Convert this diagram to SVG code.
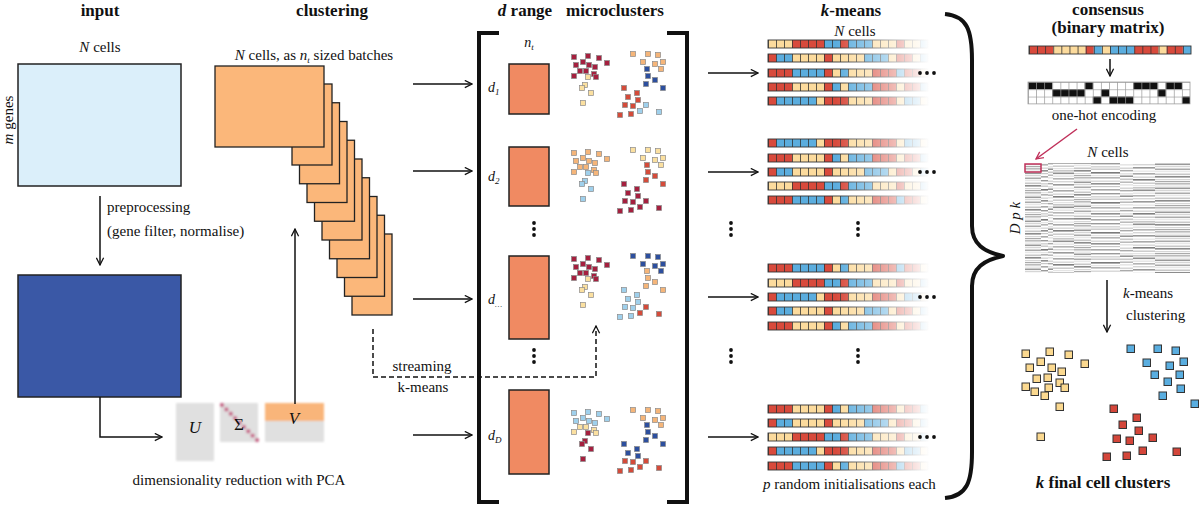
<svg xmlns="http://www.w3.org/2000/svg" xmlns:xlink="http://www.w3.org/1999/xlink" width="1200" height="511" viewBox="0 0 1200 511" font-family="'Liberation Serif', 'DejaVu Serif', serif">
<style>
text{font-family:"Liberation Serif","DejaVu Serif",serif;fill:#111;}
.t{font-size:17px;font-weight:bold;text-anchor:middle;}
.b{font-size:15px;}
.c{text-anchor:middle;}
.i{font-style:italic;}
.ln{stroke:#111;stroke-width:1.5;fill:none;}
.kr{fill:#d84a3c;}.kb{fill:#5badde;}.ky{fill:#fcdb9d;}
.cr{fill:#a5203f;}.ye{fill:#fbe0a0;}.or{fill:#f5b579;}.db{fill:#2d4f9e;}.rd{fill:#d44b3a;}.lb{fill:#9fd0ec;}
.fy{fill:#fbd990;}.fb{fill:#5aaee0;}.fr{fill:#d4463a;}
.dot{fill:#111;}
</style>
<defs>
<marker id="ah" viewBox="0 0 10 10" refX="9" refY="5" markerWidth="9" markerHeight="9" orient="auto" markerUnits="userSpaceOnUse"><path d="M1,1 L9,5 L1,9" fill="none" stroke="#111" stroke-width="1.4"/></marker>
<marker id="ahp" viewBox="0 0 10 10" refX="9" refY="5" markerWidth="9" markerHeight="9" orient="auto" markerUnits="userSpaceOnUse"><path d="M1,1 L9,5 L1,9" fill="none" stroke="#c0305a" stroke-width="1.4"/></marker>
<filter id="soft" x="-10%" y="-10%" width="120%" height="120%"><feGaussianBlur stdDeviation="0.9"/></filter>
<linearGradient id="fade" x1="836" y1="0" x2="930" y2="0" gradientUnits="userSpaceOnUse"><stop offset="0" stop-color="#fff" stop-opacity="0"/><stop offset="1" stop-color="#fff" stop-opacity="1"/></linearGradient>
<pattern id="grid" width="8" height="8" patternUnits="userSpaceOnUse"><rect x="0" y="0" width="0.8" height="8" fill="#333"/></pattern>
<pattern id="grid2" width="8" height="8" patternUnits="userSpaceOnUse"><rect x="0" y="0" width="0.7" height="8" fill="#999"/><rect x="0" y="0" width="8" height="0.7" fill="#999"/></pattern>
<g id="s1"><rect class="ky" x="0" width="24" height="8"/><rect class="kr" x="24" width="32" height="8"/><rect class="kb" x="56" width="16" height="8"/><rect class="kr" x="72" width="8" height="8"/><rect class="kb" x="80" width="24" height="8"/><rect class="ky" x="104" width="24" height="8"/><rect class="kr" x="128" width="8" height="8"/><rect class="ky" x="136" width="16" height="8"/><rect class="kb" x="152" width="8" height="8"/><rect width="160" height="8" fill="url(#grid)" stroke="#333" stroke-width="0.9"/></g>
<g id="s2"><rect class="kr" x="0" width="8" height="8"/><rect class="kb" x="8" width="16" height="8"/><rect class="ky" x="24" width="32" height="8"/><rect class="kr" x="56" width="8" height="8"/><rect class="ky" x="64" width="32" height="8"/><rect class="kb" x="96" width="24" height="8"/><rect class="ky" x="120" width="8" height="8"/><rect class="kr" x="128" width="16" height="8"/><rect class="ky" x="144" width="8" height="8"/><rect class="kb" x="152" width="8" height="8"/><rect width="160" height="8" fill="url(#grid)" stroke="#333" stroke-width="0.9"/></g>
<g id="s3"><rect class="kr" x="0" width="24" height="8"/><rect class="kb" x="24" width="32" height="8"/><rect class="kr" x="56" width="8" height="8"/><rect class="ky" x="64" width="8" height="8"/><rect class="kb" x="72" width="8" height="8"/><rect class="ky" x="80" width="24" height="8"/><rect class="kr" x="104" width="24" height="8"/><rect class="kb" x="128" width="8" height="8"/><rect class="kr" x="136" width="16" height="8"/><rect class="ky" x="152" width="8" height="8"/><rect width="160" height="8" fill="url(#grid)" stroke="#333" stroke-width="0.9"/></g>
<g id="s4"><rect class="kr" x="0" width="24" height="8"/><rect class="ky" x="24" width="32" height="8"/><rect class="kr" x="56" width="8" height="8"/><rect class="kb" x="64" width="8" height="8"/><rect class="ky" x="72" width="8" height="8"/><rect class="kb" x="80" width="24" height="8"/><rect class="kr" x="104" width="24" height="8"/><rect class="ky" x="128" width="8" height="8"/><rect class="kr" x="136" width="16" height="8"/><rect class="kb" x="152" width="8" height="8"/><rect width="160" height="8" fill="url(#grid)" stroke="#333" stroke-width="0.9"/></g>
<g id="s5"><rect class="kr" x="0" width="8" height="8"/><rect class="kb" x="8" width="40" height="8"/><rect class="ky" x="48" width="8" height="8"/><rect class="kr" x="56" width="24" height="8"/><rect class="ky" x="80" width="24" height="8"/><rect class="kr" x="104" width="24" height="8"/><rect class="ky" x="128" width="8" height="8"/><rect class="kb" x="136" width="16" height="8"/><rect class="ky" x="152" width="8" height="8"/><rect width="160" height="8" fill="url(#grid)" stroke="#333" stroke-width="0.9"/></g>
<g id="gA1" stroke="#8a8a8a" stroke-width="0.7"><rect x="571.5" y="54.5" width="5" height="5"/><rect x="585.5" y="53.5" width="5" height="5"/><rect x="596.5" y="55.5" width="5" height="5"/><rect x="604.5" y="60.5" width="5" height="5"/><rect x="573.5" y="62.5" width="5" height="5"/><rect x="580.5" y="59.5" width="5" height="5"/><rect x="586.5" y="62.5" width="5" height="5"/><rect x="592.5" y="64.5" width="5" height="5"/></g>
<g id="gA2" stroke="#8a8a8a" stroke-width="0.7"><rect x="577.5" y="68.5" width="5" height="5"/><rect x="583.5" y="68.5" width="5" height="5"/><rect x="591.5" y="71.5" width="5" height="5"/><rect x="593.5" y="74.5" width="5" height="5"/><rect x="571.5" y="73.5" width="5" height="5"/></g>
<g id="gB" stroke="#8a8a8a" stroke-width="0.7"><rect x="582.5" y="82.5" width="5" height="5"/><rect x="579.5" y="85.5" width="5" height="5"/><rect x="588.5" y="90.5" width="5" height="5"/><rect x="580.5" y="100.5" width="5" height="5"/><rect x="585.5" y="74.5" width="5" height="5"/></g>
<g id="gC" stroke="#8a8a8a" stroke-width="0.7"><rect x="630.5" y="51.5" width="5" height="5"/><rect x="645.5" y="51.5" width="5" height="5"/><rect x="655.5" y="52.5" width="5" height="5"/><rect x="640.5" y="59.5" width="5" height="5"/><rect x="652.5" y="61.5" width="5" height="5"/><rect x="660.5" y="59.5" width="5" height="5"/><rect x="658.5" y="66.5" width="5" height="5"/></g>
<g id="gD" stroke="#8a8a8a" stroke-width="0.7"><rect x="644.5" y="66.5" width="5" height="5"/><rect x="645.5" y="73.5" width="5" height="5"/><rect x="652.5" y="77.5" width="5" height="5"/><rect x="643.5" y="81.5" width="5" height="5"/><rect x="660.5" y="85.5" width="5" height="5"/></g>
<g id="gE1" stroke="#8a8a8a" stroke-width="0.7"><rect x="621.5" y="85.5" width="5" height="5"/><rect x="634.5" y="90.5" width="5" height="5"/><rect x="625.5" y="94.5" width="5" height="5"/><rect x="635.5" y="97.5" width="5" height="5"/></g>
<g id="gE2" stroke="#8a8a8a" stroke-width="0.7"><rect x="622.5" y="102.5" width="5" height="5"/><rect x="630.5" y="103.5" width="5" height="5"/><rect x="617.5" y="112.5" width="5" height="5"/><rect x="628.5" y="111.5" width="5" height="5"/></g>
<g id="gF" stroke="#8a8a8a" stroke-width="0.7"><rect x="643.5" y="102.5" width="5" height="5"/><rect x="637.5" y="108.5" width="5" height="5"/><rect x="656.5" y="109.5" width="5" height="5"/></g>
<pattern id="p1" width="300" height="24" patternUnits="userSpaceOnUse"><rect width="300" height="24" fill="#fff"/><rect y="0" width="300" height="1.6" fill="#bbb"/><rect y="2.5" width="300" height="1.2" fill="#e4e4e4"/><rect y="4.5" width="300" height="1.6" fill="#999"/><rect y="7" width="300" height="1.2" fill="#d6d6d6"/><rect y="9.5" width="300" height="1.6" fill="#aaa"/><rect y="12" width="300" height="1.2" fill="#e8e8e8"/><rect y="14.5" width="300" height="1.6" fill="#c8c8c8"/><rect y="17" width="300" height="1.6" fill="#8c8c8c"/><rect y="20" width="300" height="1.2" fill="#d6d6d6"/><rect y="22" width="300" height="1.2" fill="#aaa"/></pattern>
<pattern id="p2" width="300" height="30" patternUnits="userSpaceOnUse"><rect width="300" height="30" fill="#fff"/><rect y="0" width="300" height="1.4" fill="#9a9a9a"/><rect y="3" width="300" height="1.6" fill="#d6d6d6"/><rect y="5.5" width="300" height="1.4" fill="#c8c8c8"/><rect y="9" width="300" height="1.6" fill="#7a7a7a"/><rect y="12" width="300" height="1.2" fill="#e4e4e4"/><rect y="14" width="300" height="1.6" fill="#b4b4b4"/><rect y="17.5" width="300" height="1.4" fill="#d6d6d6"/><rect y="20" width="300" height="1.6" fill="#909090"/><rect y="23" width="300" height="1.2" fill="#c8c8c8"/><rect y="26" width="300" height="1.6" fill="#aaa"/></pattern>
<pattern id="p3" width="300" height="20" patternUnits="userSpaceOnUse"><rect width="300" height="20" fill="#fff"/><rect y="0.5" width="300" height="1.6" fill="#d6d6d6"/><rect y="3" width="300" height="1.4" fill="#aaa"/><rect y="6" width="300" height="1.6" fill="#e4e4e4"/><rect y="8.5" width="300" height="1.4" fill="#888"/><rect y="11.5" width="300" height="1.6" fill="#c8c8c8"/><rect y="14.5" width="300" height="1.4" fill="#b4b4b4"/><rect y="17" width="300" height="1.6" fill="#e6e6e6"/></pattern>
<pattern id="p4" width="300" height="34" patternUnits="userSpaceOnUse"><rect width="300" height="34" fill="#fff"/><rect y="0" width="300" height="1.6" fill="#c8c8c8"/><rect y="2.5" width="300" height="1.6" fill="#909090"/><rect y="5.5" width="300" height="1.4" fill="#e4e4e4"/><rect y="8" width="300" height="1.6" fill="#b4b4b4"/><rect y="11" width="300" height="1.4" fill="#d6d6d6"/><rect y="14" width="300" height="1.6" fill="#9a9a9a"/><rect y="17.5" width="300" height="1.4" fill="#e8e8e8"/><rect y="20" width="300" height="1.6" fill="#aaa"/><rect y="23.5" width="300" height="1.4" fill="#d6d6d6"/><rect y="26" width="300" height="1.6" fill="#808080"/><rect y="29.5" width="300" height="1.4" fill="#c8c8c8"/><rect y="32" width="300" height="1.2" fill="#e4e4e4"/></pattern>
<pattern id="p1b" href="#p1" patternTransform="translate(0,9)"/>
<pattern id="p2b" href="#p2" patternTransform="translate(0,13)"/>
<pattern id="p3b" href="#p3" patternTransform="translate(0,7)"/>
<pattern id="p4b" href="#p4" patternTransform="translate(0,17)"/>
<pattern id="p1c" href="#p1" patternTransform="translate(0,15)"/>
</defs>
<rect width="1200" height="511" fill="#fff"/>

<g id="titles">
<text class="t" x="100" y="16">input</text>
<text class="t" x="332" y="16">clustering</text>
<text class="t" x="525" y="16"><tspan class="i">d</tspan> range</text>
<text class="t" x="615" y="16">microclusters</text>
<text class="t" x="851" y="16"><tspan class="i">k</tspan>-means</text>
<text class="t" x="1108" y="15">consensus</text>
<text class="t" x="1108" y="33">(binary matrix)</text>
</g>

<g id="input">
<text class="b c" x="100" y="52"><tspan class="i">N</tspan> cells</text>
<text class="b c" transform="translate(13,120) rotate(-90)"><tspan class="i">m</tspan> genes</text>
<rect x="18" y="64" width="163" height="122" fill="#dbeffa" stroke="#222" stroke-width="1.5"/>
</g>

<g id="preprocessed">
<rect x="18" y="275" width="163" height="122" fill="#3a58a6" stroke="#222" stroke-width="1.5"/>
<text class="b" x="107" y="212">preprocessing</text>
<text class="b" x="107" y="236">(gene filter, normalise)</text>
</g>

<g id="pca">
<g filter="url(#soft)">
<rect x="176" y="403" width="38" height="58" fill="#e0e0e0"/>
<rect x="220" y="403" width="38" height="39" fill="#e0e0e0"/>
<rect x="265" y="403" width="59" height="39" fill="#e0e0e0"/>
<rect x="265" y="403" width="59" height="18" fill="#f9b57a"/>
<g fill="#c86c8c"><circle cx="222" cy="405" r="2.2"/><circle cx="226.4" cy="409.4" r="2.2"/><circle cx="230.8" cy="413.8" r="2.2"/><circle cx="235.1" cy="418.1" r="2.2"/><circle cx="239.5" cy="422.5" r="2.2"/><circle cx="243.9" cy="426.9" r="2.2"/><circle cx="248.3" cy="431.3" r="2.2"/><circle cx="252.6" cy="435.6" r="2.2"/><circle cx="257" cy="440" r="2.2"/></g>
</g>
<text class="c i" x="195" y="433" font-size="17">U</text>
<text class="c" x="239" y="430" font-size="17">Σ</text>
<text class="c i" x="294" y="424" font-size="17">V</text>
<text class="b c" x="239" y="485">dimensionality reduction with PCA</text>
</g>

<g id="batches">
<text class="b c" x="314" y="60"><tspan class="i">N</tspan> cells, as <tspan class="i">n</tspan><tspan class="i" font-size="9" dy="3">t</tspan><tspan dy="-3"> sized batches</tspan></text>
<g fill="#fbb77a" stroke="#222" stroke-width="1.3">
<rect x="352" y="234" width="40" height="81"/>
<rect x="344.5" y="215.25" width="40" height="81"/>
<rect x="337" y="196.5" width="40" height="81"/>
<rect x="329.5" y="177.75" width="40" height="81"/>
<rect x="322" y="159" width="40" height="81"/>
<rect x="314.5" y="140.25" width="40" height="81"/>
<rect x="307" y="121.5" width="40" height="81"/>
<rect x="299.5" y="102.75" width="40" height="81"/>
<rect x="292" y="84" width="40" height="81"/>
<rect x="215" y="66" width="109" height="81"/>
</g>
</g>

<g id="drange">
<path d="M499,33 H479 V502 H499" fill="none" stroke="#111" stroke-width="4"/>
<path d="M667,33 H687 V502 H667" fill="none" stroke="#111" stroke-width="4"/>
<text class="c i" x="529" y="47" font-size="14">n<tspan font-size="9" dy="3">t</tspan></text>
<g fill="#f08a62" stroke="#222" stroke-width="1.5">
<rect x="509" y="64" width="40" height="50"/>
<rect x="509" y="147" width="40" height="59"/>
<rect x="509" y="256" width="40" height="83"/>
<rect x="509" y="390" width="40" height="84"/>
</g>
<text class="i" x="488" y="92" font-size="14">d<tspan font-size="9" dy="3">1</tspan></text>
<text class="i" x="488" y="181" font-size="14">d<tspan font-size="9" dy="3">2</tspan></text>
<text class="i" x="488" y="304" font-size="14">d<tspan font-size="8" dy="3">…</tspan></text>
<text class="i" x="488" y="440" font-size="14">d<tspan font-size="9" dy="3">D</tspan></text>
<g class="dot"><circle cx="534" cy="223" r="1.9"/><circle cx="534" cy="229" r="1.9"/><circle cx="534" cy="235" r="1.9"/><circle cx="534" cy="350" r="1.9"/><circle cx="534" cy="356" r="1.9"/><circle cx="534" cy="362" r="1.9"/></g>
</g>

<g id="microclusters">
<use href="#gA1" class="cr"/><use href="#gA2" class="cr"/><use href="#gB" class="ye"/><use href="#gC" class="or"/><use href="#gD" class="db"/><use href="#gE1" class="rd"/><use href="#gE2" class="rd"/><use href="#gF" class="lb"/>
<g transform="translate(0,96)"><use href="#gA1" class="or"/><use href="#gA2" class="or"/><use href="#gB" class="lb"/><use href="#gC" class="ye"/><use href="#gD" class="rd"/><use href="#gE1" class="cr"/><use href="#gE2" class="cr"/><use href="#gF" class="cr"/></g>
<g transform="translate(0,202)"><use href="#gA1" class="cr"/><use href="#gA2" class="cr"/><use href="#gB" class="ye"/><use href="#gC" class="db"/><use href="#gD" class="or"/><use href="#gE1" class="lb"/><use href="#gE2" class="lb"/><use href="#gF" class="rd"/></g>
<g transform="translate(0,356)"><use href="#gA1" class="lb"/><use href="#gA2" class="ye"/><use href="#gB" class="cr"/><use href="#gC" class="or"/><use href="#gD" class="db"/><use href="#gE1" class="db"/><use href="#gE2" class="rd"/><use href="#gF" class="rd"/></g>
</g>

<g id="kmeans">
<text class="b c" x="855" y="36"><tspan class="i">N</tspan> cells</text>
<use href="#s1" x="768" y="40"/><use href="#s2" x="768" y="54"/><use href="#s3" x="768" y="69"/><use href="#s4" x="768" y="83"/><use href="#s5" x="768" y="97"/>
<use href="#s5" x="768" y="139"/><use href="#s4" x="768" y="154"/><use href="#s2" x="768" y="168"/><use href="#s1" x="768" y="182"/><use href="#s3" x="768" y="196"/>
<use href="#s3" x="768" y="264"/><use href="#s1" x="768" y="279"/><use href="#s5" x="768" y="293"/><use href="#s2" x="768" y="307"/><use href="#s4" x="768" y="322"/>
<use href="#s4" x="768" y="405"/><use href="#s2" x="768" y="419"/><use href="#s1" x="768" y="433"/><use href="#s5" x="768" y="447"/><use href="#s3" x="768" y="462"/>
<rect x="835" y="39" width="105" height="435" fill="url(#fade)"/>
<g class="dot">
<circle cx="920" cy="73" r="1.9"/><circle cx="927" cy="73" r="1.9"/><circle cx="934" cy="73" r="1.9"/>
<circle cx="920" cy="172" r="1.9"/><circle cx="927" cy="172" r="1.9"/><circle cx="934" cy="172" r="1.9"/>
<circle cx="920" cy="297" r="1.9"/><circle cx="927" cy="297" r="1.9"/><circle cx="934" cy="297" r="1.9"/>
<circle cx="920" cy="437" r="1.9"/><circle cx="927" cy="437" r="1.9"/><circle cx="934" cy="437" r="1.9"/>
<circle cx="731" cy="223" r="1.9"/><circle cx="731" cy="229" r="1.9"/><circle cx="731" cy="235" r="1.9"/>
<circle cx="731" cy="350" r="1.9"/><circle cx="731" cy="356" r="1.9"/><circle cx="731" cy="362" r="1.9"/>
<circle cx="858" cy="223" r="1.9"/><circle cx="858" cy="229" r="1.9"/><circle cx="858" cy="235" r="1.9"/>
<circle cx="858" cy="350" r="1.9"/><circle cx="858" cy="356" r="1.9"/><circle cx="858" cy="362" r="1.9"/>
</g>
<text class="b" x="763" y="489"><tspan class="i">p</tspan> random initialisations each</text>
</g>

<g id="brace">
<path d="M945,14 C967,16 972,30 972,60 L972,226 C972,244 984,252 1003,256 C984,260 972,268 972,286 L972,452 C972,482 967,496 945,498" fill="none" stroke="#111" stroke-width="4" stroke-linejoin="round"/>
</g>

<g id="consensus">
<use href="#s4" transform="translate(1029,46) scale(1.0125,1)"/>
<g transform="translate(1028,82) scale(1.0125,0.9125)">
<rect width="160" height="24" fill="#fff"/>
<g fill="#111"><rect x="0" y="0" width="24" height="8"/><rect x="56" y="0" width="8" height="8"/><rect x="104" y="0" width="24" height="8"/><rect x="136" y="0" width="16" height="8"/><rect x="24" y="8" width="32" height="8"/><rect x="72" y="8" width="8" height="8"/><rect x="128" y="8" width="8" height="8"/><rect x="64" y="16" width="8" height="8"/><rect x="80" y="16" width="24" height="8"/><rect x="152" y="16" width="8" height="8"/></g>
<rect width="160" height="24" fill="url(#grid2)" stroke="#999" stroke-width="0.8"/>
</g>
<text class="b c" x="1104" y="120">one-hot encoding</text>
<text class="b c" x="1108" y="157"><tspan class="i">N</tspan> cells</text>
<text class="b c" transform="translate(1020,218) rotate(-90)"><tspan class="i">D p k</tspan></text>
<g>
<rect x="1025" y="163" width="16" height="110" fill="url(#p1)"/>
<rect x="1041" y="163" width="7" height="110" fill="url(#p2)"/>
<rect x="1048" y="163" width="5" height="110" fill="url(#p3)"/>
<rect x="1053" y="163" width="21" height="110" fill="url(#p4)"/>
<rect x="1074" y="163" width="17" height="110" fill="url(#p1b)"/>
<rect x="1091" y="163" width="29" height="110" fill="url(#p2b)"/>
<rect x="1120" y="163" width="13" height="110" fill="url(#p3b)"/>
<rect x="1133" y="163" width="22" height="110" fill="url(#p4b)"/>
<rect x="1155" y="163" width="35" height="110" fill="url(#p1c)"/>
</g>
<rect x="1025" y="164" width="16" height="8" fill="none" stroke="#c0305a" stroke-width="1.5"/>
<text class="b" x="1123" y="298"><tspan class="i">k</tspan>-means</text>
<text class="b" x="1126" y="320">clustering</text>
</g>

<g id="final">
<g stroke="#333" stroke-width="1">
<g class="fy"><rect x="1022" y="350" width="7.5" height="7.5"/><rect x="1046" y="348" width="7.5" height="7.5"/><rect x="1065" y="351" width="7.5" height="7.5"/><rect x="1081" y="360" width="7.5" height="7.5"/><rect x="1026" y="364" width="7.5" height="7.5"/><rect x="1037" y="358" width="7.5" height="7.5"/><rect x="1048" y="364" width="7.5" height="7.5"/><rect x="1058" y="368" width="7.5" height="7.5"/><rect x="1033" y="375" width="7.5" height="7.5"/><rect x="1044" y="374" width="7.5" height="7.5"/><rect x="1056" y="379" width="7.5" height="7.5"/><rect x="1061" y="384" width="7.5" height="7.5"/><rect x="1022" y="383" width="7.5" height="7.5"/><rect x="1031" y="388" width="7.5" height="7.5"/><rect x="1041" y="392" width="7.5" height="7.5"/><rect x="1045" y="384" width="7.5" height="7.5"/><rect x="1056" y="403" width="7.5" height="7.5"/><rect x="1037" y="433" width="7.5" height="7.5"/></g>
<g class="fb"><rect x="1127" y="345" width="7.5" height="7.5"/><rect x="1154" y="345" width="7.5" height="7.5"/><rect x="1172" y="347" width="7.5" height="7.5"/><rect x="1143" y="359" width="7.5" height="7.5"/><rect x="1166" y="362" width="7.5" height="7.5"/><rect x="1180" y="358" width="7.5" height="7.5"/><rect x="1151" y="371" width="7.5" height="7.5"/><rect x="1176" y="371" width="7.5" height="7.5"/><rect x="1164" y="378" width="7.5" height="7.5"/><rect x="1177" y="385" width="7.5" height="7.5"/><rect x="1159" y="392" width="7.5" height="7.5"/><rect x="1191" y="400" width="7.5" height="7.5"/></g>
<g class="fr"><rect x="1110" y="405" width="7.5" height="7.5"/><rect x="1133" y="414" width="7.5" height="7.5"/><rect x="1119" y="421" width="7.5" height="7.5"/><rect x="1135" y="427" width="7.5" height="7.5"/><rect x="1113" y="435" width="7.5" height="7.5"/><rect x="1126" y="437" width="7.5" height="7.5"/><rect x="1149" y="434" width="7.5" height="7.5"/><rect x="1139" y="447" width="7.5" height="7.5"/><rect x="1103" y="453" width="7.5" height="7.5"/><rect x="1123" y="452" width="7.5" height="7.5"/><rect x="1173" y="448" width="7.5" height="7.5"/></g>
</g>
<text class="t" x="1103" y="488"><tspan class="i">k</tspan> final cell clusters</text>
</g>

<g id="connectors">
<path class="ln" d="M100,196 V265" marker-end="url(#ah)"/>
<path class="ln" d="M100,397 V437 H162" marker-end="url(#ah)"/>
<path class="ln" d="M295,404 V229" marker-end="url(#ah)"/>
<path class="ln" d="M413,84 H472" marker-end="url(#ah)"/>
<path class="ln" d="M413,171 H472" marker-end="url(#ah)"/>
<path class="ln" d="M413,299 H472" marker-end="url(#ah)"/>
<path class="ln" d="M413,435 H472" marker-end="url(#ah)"/>
<path class="ln" d="M708,73 H758" marker-end="url(#ah)"/>
<path class="ln" d="M708,172 H758" marker-end="url(#ah)"/>
<path class="ln" d="M708,297 H758" marker-end="url(#ah)"/>
<path class="ln" d="M708,437 H758" marker-end="url(#ah)"/>
<path class="ln" d="M373,329 V377 H596 V326" stroke-dasharray="5,3" marker-end="url(#ah)"/>
<text class="b c" x="422" y="371">streaming</text>
<text class="b c" x="423" y="392">k-means</text>
<path class="ln" d="M1110,59 V76" marker-end="url(#ah)"/>
<path d="M1077,129 L1036,159" fill="none" stroke="#c0305a" stroke-width="1.5" marker-end="url(#ahp)"/>
<path class="ln" d="M1107,280 V332" marker-end="url(#ah)"/>
</g>
</svg>
